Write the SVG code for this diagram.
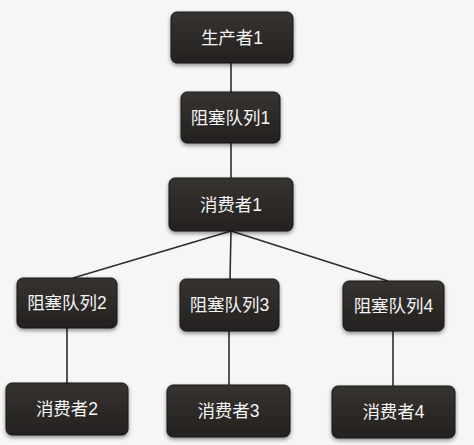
<svg xmlns="http://www.w3.org/2000/svg" width="474" height="445" viewBox="0 0 474 445">
  <defs>
    <linearGradient id="boxg" x1="0" y1="0" x2="0" y2="1">
      <stop offset="0" stop-color="#373331"/>
      <stop offset="1" stop-color="#24211f"/>
    </linearGradient>
    <filter id="sh" x="-20%" y="-20%" width="140%" height="150%">
      <feGaussianBlur in="SourceAlpha" stdDeviation="2"/>
      <feOffset dx="0" dy="1.5" result="b"/>
      <feComponentTransfer><feFuncA type="linear" slope="0.45"/></feComponentTransfer>
      <feMerge><feMergeNode/><feMergeNode in="SourceGraphic"/></feMerge>
    </filter>
  </defs>
  <style>
    .box { fill: url(#boxg); stroke: #1a1817; stroke-width: 1; filter: url(#sh); }
    .lbl { fill: #f4f4f4; font-family: "Liberation Sans", "Noto Sans CJK SC", sans-serif; font-size: 17.5px; text-anchor: middle; dominant-baseline: central; }
    .edge { stroke: #2f2c2a; stroke-width: 1.6; fill: none; }
  </style>
  <rect width="474" height="445" fill="#f6f6f6"/>
  <g id="connectors">
    <line class="edge" x1="231" y1="62" x2="231" y2="93"/>
    <line class="edge" x1="231" y1="143" x2="231" y2="178"/>
    <line class="edge" x1="231" y1="231" x2="73" y2="278"/>
    <line class="edge" x1="231" y1="231" x2="230" y2="279"/>
    <line class="edge" x1="231" y1="231" x2="388" y2="281"/>
    <line class="edge" x1="67" y1="328" x2="67" y2="383"/>
    <line class="edge" x1="229" y1="331" x2="229" y2="385"/>
    <line class="edge" x1="393" y1="331" x2="393" y2="386"/>
  </g>
  <g id="producer1">
    <rect class="box" x="171" y="12" width="122" height="51" rx="6"/>
    <text class="lbl" x="232" y="37.5">生产者1</text>
  </g>
  <g id="queue1">
    <rect class="box" x="181" y="92" width="99" height="51" rx="6"/>
    <text class="lbl" x="230.5" y="117.5">阻塞队列1</text>
  </g>
  <g id="consumer1">
    <rect class="box" x="169" y="178" width="124" height="53" rx="6"/>
    <text class="lbl" x="231" y="204.5">消费者1</text>
  </g>
  <g id="queue2">
    <rect class="box" x="17" y="278" width="100" height="50" rx="6"/>
    <text class="lbl" x="67" y="303">阻塞队列2</text>
  </g>
  <g id="queue3">
    <rect class="box" x="180" y="279" width="99" height="52" rx="6"/>
    <text class="lbl" x="229.5" y="305">阻塞队列3</text>
  </g>
  <g id="queue4">
    <rect class="box" x="343" y="281" width="101" height="50" rx="6"/>
    <text class="lbl" x="393.5" y="306">阻塞队列4</text>
  </g>
  <g id="consumer2">
    <rect class="box" x="6" y="383" width="122" height="52" rx="6"/>
    <text class="lbl" x="67" y="409">消费者2</text>
  </g>
  <g id="consumer3">
    <rect class="box" x="167" y="385" width="123" height="52" rx="6"/>
    <text class="lbl" x="228.5" y="411">消费者3</text>
  </g>
  <g id="consumer4">
    <rect class="box" x="332" y="386" width="123" height="52" rx="6"/>
    <text class="lbl" x="393.5" y="412">消费者4</text>
  </g>
</svg>
